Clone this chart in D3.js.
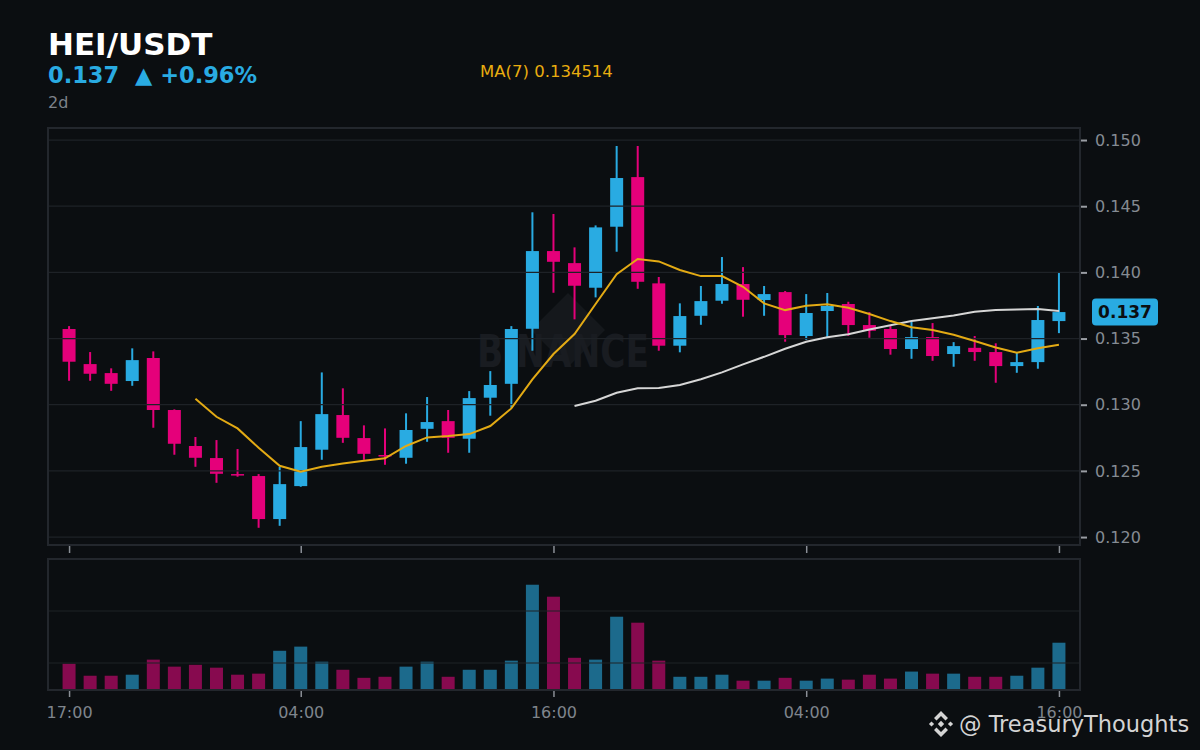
<!DOCTYPE html>
<html>
<head>
<meta charset="utf-8">
<script src="https://cdn.jsdelivr.net/npm/d3@7"></script>
<style>
html,body{margin:0;padding:0;background:#0b0e11;}
svg{display:block;}
text{font-family:"DejaVu Sans",sans-serif;}
</style>
</head>
<body>
<svg id="chart" width="1200" height="750"></svg>
<script>
// ---------- DATA ----------
const pair = "HEI/USDT";
const lastPrice = "0.137";
const changeText = "▲ +0.96%";
const period = "2d";
const maLegend = "MA(7) 0.134514";
const handle = "@ TreasuryThoughts";

const openP = [0.13572,0.13307,0.13239,0.13179,0.13353,0.12960,0.12688,0.12597,0.12476,0.12461,0.12136,0.12385,0.12660,0.12922,0.12748,0.12620,0.12599,0.12818,0.12876,0.12743,0.13053,0.13158,0.13574,0.14161,0.14070,0.13884,0.14345,0.14720,0.13917,0.13446,0.13672,0.13786,0.13912,0.13791,0.13851,0.13519,0.13708,0.13761,0.13602,0.13572,0.13421,0.13511,0.13383,0.13430,0.13398,0.13292,0.13322,0.13632];
const highP = [0.13594,0.13398,0.13275,0.13426,0.13403,0.12965,0.12756,0.12733,0.12665,0.12476,0.12531,0.12876,0.13244,0.13124,0.12844,0.12821,0.12935,0.13058,0.12960,0.13103,0.13254,0.13594,0.14454,0.14441,0.14189,0.14355,0.14955,0.14955,0.13965,0.13766,0.13897,0.14116,0.14040,0.13897,0.13859,0.13836,0.13844,0.13778,0.13700,0.13594,0.13627,0.13617,0.13473,0.13519,0.13464,0.13393,0.13746,0.13995];
const lowP = [0.13181,0.13181,0.13105,0.13143,0.12826,0.12622,0.12531,0.12410,0.12456,0.12070,0.12085,0.12380,0.12584,0.12712,0.12584,0.12546,0.12554,0.12720,0.12637,0.12637,0.12917,0.12977,0.13408,0.13846,0.13645,0.13811,0.14156,0.13876,0.13408,0.13396,0.13604,0.13763,0.13665,0.13672,0.13476,0.13489,0.13506,0.13521,0.13506,0.13378,0.13347,0.13332,0.13287,0.13332,0.13166,0.13241,0.13272,0.13541];
const closeP = [0.13325,0.13234,0.13158,0.13337,0.12960,0.12705,0.12599,0.12478,0.12472,0.12136,0.12400,0.12680,0.12929,0.12750,0.12629,0.12616,0.12809,0.12869,0.12750,0.13050,0.13149,0.13572,0.14161,0.14080,0.13899,0.14340,0.14713,0.13929,0.13446,0.13670,0.13783,0.13912,0.13793,0.13836,0.13526,0.13693,0.13746,0.13602,0.13559,0.13421,0.13511,0.13368,0.13443,0.13398,0.13292,0.13322,0.13640,0.13700];
const volume = [0.97,0.51,0.51,0.55,1.13,0.86,0.93,0.82,0.55,0.59,1.47,1.63,1.05,0.74,0.43,0.47,0.86,1.05,0.47,0.74,0.74,1.09,4.01,3.55,1.20,1.13,2.78,2.55,1.09,0.47,0.47,0.55,0.32,0.32,0.43,0.32,0.40,0.36,0.55,0.40,0.67,0.59,0.59,0.47,0.47,0.51,0.82,1.78];
const ma7 = [null,null,null,null,null,null,0.13045,0.12909,0.12821,0.12675,0.12539,0.12493,0.12531,0.12555,0.12577,0.12595,0.12688,0.12753,0.12763,0.12778,0.12839,0.12972,0.13192,0.13383,0.13534,0.13761,0.13987,0.14101,0.14083,0.14018,0.13972,0.13972,0.13891,0.13766,0.13715,0.13748,0.13759,0.13733,0.13685,0.13632,0.13585,0.13564,0.13529,0.13481,0.13433,0.13393,0.13426,0.13453];
const ma25 = [null,null,null,null,null,null,null,null,null,null,null,null,null,null,null,null,null,null,null,null,null,null,null,null,0.12990,0.13030,0.13090,0.13124,0.13126,0.13149,0.13192,0.13244,0.13305,0.13362,0.13423,0.13476,0.13510,0.13532,0.13569,0.13600,0.13632,0.13653,0.13675,0.13702,0.13715,0.13720,0.13723,0.13708];
const priceTicks = [0.120,0.125,0.130,0.135,0.140,0.145,0.150];
const volumeGrid = [1,3];
const timeTickIdx = [0,11,23,35,47];

// ---------- LAYOUT ----------
const start = new Date(2025,0,6,17,0,0);
const hour = 3600*1000;
const times = openP.map((_,i)=>new Date(start.getTime()+i*hour));
const C = {bg:"#0b0e11", up:"#29abe2", down:"#e5007a", upV:"#1c6a8c", downV:"#870a4f",
  grid:"#1e2227", border:"#23272d", axis:"#858b93", ma7:"#e3aa14", ma25:"#d6d6d6"};

const svg = d3.select("#chart");
svg.append("rect").attr("width",1200).attr("height",750).attr("fill",C.bg);

const left=48, right=1080, pTop=128, pBot=545, vTop=559, vBot=690;
const x = d3.scaleTime()
  .domain([new Date(start.getTime()-hour), new Date(start.getTime()+openP.length*hour)])
  .range([left,right]);
const y = d3.scaleLinear().domain([0.11940,0.15091]).range([pBot,pTop]);
const yv = d3.scaleLinear().domain([0,5]).range([vBot-1,vTop]);

// watermark
const wm = svg.append("g");
wm.append("path")
  .attr("d",`M568,293 L605,330 L568,367 L531,330 Z`)
  .attr("fill","#15181c");
wm.append("text").attr("x",563).attr("y",367).attr("text-anchor","middle")
  .attr("font-size",44).attr("font-weight","bold").attr("fill","#191c21")
  .attr("textLength",172).attr("lengthAdjust","spacingAndGlyphs")
  .text("BINANCE");

// candles
const bodyW = 13;
const cg = svg.append("g");
openP.forEach((o,i)=>{
  const c = closeP[i], up = c>=o, col = up?C.up:C.down, cx = x(times[i]);
  cg.append("line").attr("x1",cx).attr("x2",cx).attr("y1",y(highP[i])).attr("y2",y(lowP[i]))
    .attr("stroke",col).attr("stroke-width",2);
  const yt = y(Math.max(o,c)), yb = y(Math.min(o,c));
  cg.append("rect").attr("x",cx-bodyW/2).attr("width",bodyW)
    .attr("y",yt).attr("height",Math.max(1.5,yb-yt)).attr("fill",col);
});

// volume bars
const vg = svg.append("g");
volume.forEach((v,i)=>{
  const up = closeP[i]>=openP[i], cx = x(times[i]);
  vg.append("rect").attr("x",cx-bodyW/2).attr("width",bodyW)
    .attr("y",yv(v)).attr("height",yv(0)-yv(v)).attr("fill",up?C.upV:C.downV);
});

// grid lines (drawn over marks)
svg.append("g").selectAll("line").data(priceTicks).join("line")
  .attr("x1",left).attr("x2",right).attr("y1",d=>y(d)).attr("y2",d=>y(d))
  .attr("stroke",C.grid).attr("stroke-width",1.2);
svg.append("g").selectAll("line").data(volumeGrid).join("line")
  .attr("x1",left).attr("x2",right).attr("y1",d=>yv(d)).attr("y2",d=>yv(d))
  .attr("stroke",C.grid).attr("stroke-width",1.2);

// MA lines
const lineGen = d3.line().defined(d=>d.v!=null).x(d=>x(d.t)).y(d=>y(d.v));
svg.append("path").datum(ma25.map((v,i)=>({t:times[i],v})))
  .attr("d",lineGen).attr("fill","none").attr("stroke",C.ma25).attr("stroke-width",2);
svg.append("path").datum(ma7.map((v,i)=>({t:times[i],v})))
  .attr("d",lineGen).attr("fill","none").attr("stroke",C.ma7).attr("stroke-width",2);

// panel borders
svg.append("rect").attr("x",left).attr("y",pTop).attr("width",right-left).attr("height",pBot-pTop)
  .attr("fill","none").attr("stroke",C.border).attr("stroke-width",2);
svg.append("rect").attr("x",left).attr("y",vTop).attr("width",right-left).attr("height",vBot-vTop)
  .attr("fill","none").attr("stroke",C.border).attr("stroke-width",2);

// right price axis
const ya = svg.append("g").attr("transform",`translate(${right+1},0)`)
  .call(d3.axisRight(y).tickValues(priceTicks).tickFormat(d3.format(".3f")).tickSize(6).tickPadding(8));
ya.select(".domain").remove();
ya.selectAll(".tick line").attr("stroke","#9a9ea4").attr("stroke-width",2);
ya.selectAll(".tick text").attr("fill",C.axis).attr("font-size",16).attr("font-family","DejaVu Sans");

// bottom axes
const tickTimes = timeTickIdx.map(i=>times[i]);
const xa1 = svg.append("g").attr("transform",`translate(0,${pBot+1})`)
  .call(d3.axisBottom(x).tickValues(tickTimes).tickFormat("").tickSize(7));
xa1.select(".domain").remove();
xa1.selectAll(".tick line").attr("stroke","#8a8f96").attr("stroke-width",1.5);
const xa2 = svg.append("g").attr("transform",`translate(0,${vBot+1})`)
  .call(d3.axisBottom(x).tickValues(tickTimes).tickFormat(d3.timeFormat("%H:%M")).tickSize(6).tickPadding(10));
xa2.select(".domain").remove();
xa2.selectAll(".tick line").attr("stroke","#8a8f96").attr("stroke-width",1.5);
xa2.selectAll(".tick text").attr("fill","#7f858d").attr("font-size",16).attr("font-family","DejaVu Sans");

// last price badge
const lp = +lastPrice;
const by = y(closeP[closeP.length-1]);
svg.append("rect").attr("x",1092).attr("y",by-13.5).attr("width",66).attr("height",27)
  .attr("rx",4).attr("fill",C.up);
svg.append("text").attr("x",1125).attr("y",by).attr("dy","0.36em").attr("text-anchor","middle")
  .attr("font-size",17).attr("font-weight","bold").attr("fill","#0b0e11").text(d3.format(".3f")(lp));

// header
svg.append("text").attr("x",48).attr("y",55).attr("font-size",31).attr("font-weight","bold")
  .attr("fill","#ffffff").text(pair);
const hdr = svg.append("text").attr("x",48).attr("y",83).attr("font-size",22.5).attr("font-weight","bold")
  .attr("fill",C.up);
hdr.append("tspan").text(lastPrice);
hdr.append("tspan").attr("x",135).text(changeText);
svg.append("text").attr("x",48).attr("y",108).attr("font-size",16).attr("fill","#7d828a").text(period);
svg.append("text").attr("x",480).attr("y",77).attr("font-size",16.5).attr("fill","#e9ad0f").text(maLegend);

// handle watermark bottom-right
const lg = svg.append("g").attr("fill","#d4d4d4");
const dia = (cx,cy,r)=>`M${cx},${cy-r} L${cx+r},${cy} L${cx},${cy+r} L${cx-r},${cy} Z`;
lg.append("path").attr("d",dia(941,724,3.2));
lg.append("path").attr("d",dia(931.5,724,2.6));
lg.append("path").attr("d",dia(950.5,724,2.6));
lg.append("path").attr("d","M941,711 L948,718 L945.5,720.5 L941,716 L936.5,720.5 L934,718 Z");
lg.append("path").attr("d","M941,737 L948,730 L945.5,727.5 L941,732 L936.5,727.5 L934,730 Z");
svg.append("text").attr("x",959).attr("y",732).attr("font-size",22.5).attr("fill","#d4d4d4")
  .attr("font-family","DejaVu Sans").text(handle);
</script>
</body>
</html>
